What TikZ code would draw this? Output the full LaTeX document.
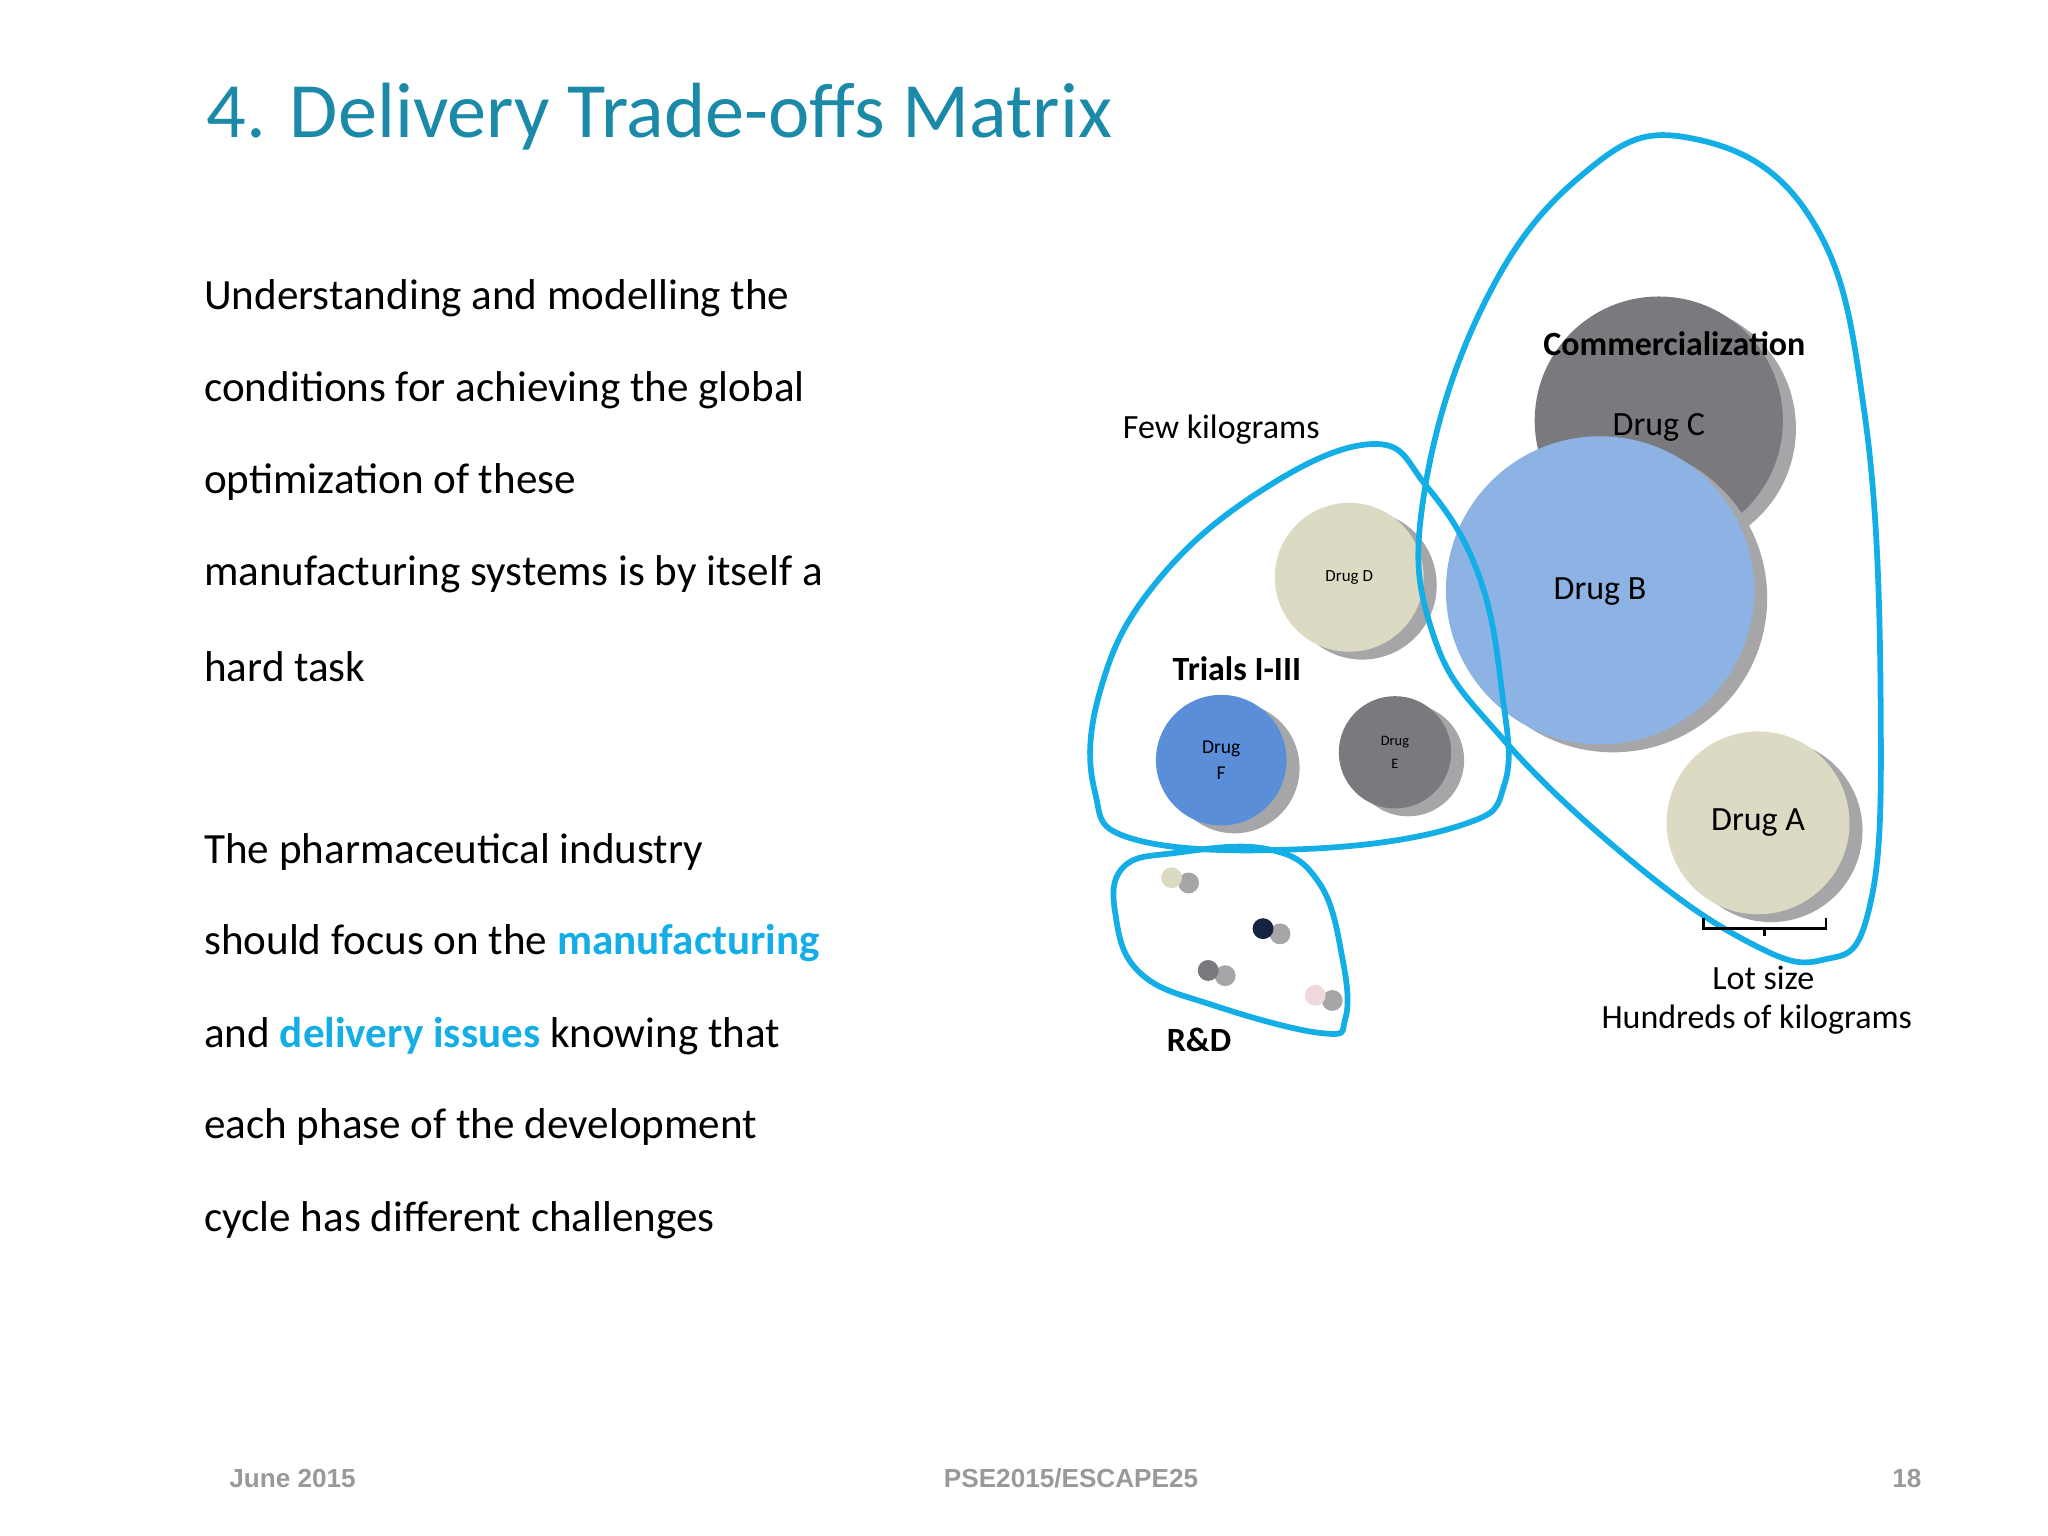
\documentclass[tikz,border=0pt]{standalone}
\usepackage{fontspec}
\setmainfont{Carlito}
\newfontfamily\footfont{Liberation Sans}
\definecolor{teal1}{HTML}{1A8AA8}
\definecolor{cyanl}{HTML}{14AEE6}
\definecolor{shad}{HTML}{A6A6A8}
\definecolor{cream}{HTML}{DDDAC4}
\definecolor{dgray}{HTML}{7A797D}
\definecolor{bblue}{HTML}{8DB3E4}
\definecolor{fblue}{HTML}{5A8ED8}
\definecolor{navy}{HTML}{14233F}
\definecolor{pinkl}{HTML}{F0D8DC}
\begin{document}
\begin{tikzpicture}[x=0.5pt,y=-0.5pt,
  body/.style={anchor=west,font=\fontsize{16.5}{18}\selectfont,inner sep=0},
  blob/.style={draw=cyanl,line width=2.2pt},
  lbl/.style={font=\fontsize{13}{14}\selectfont,inner sep=0},
  blbl/.style={font=\fontsize{13}{14}\selectfont\bfseries,inner sep=0},
  foot/.style={font=\footfont\bfseries\fontsize{10}{11}\selectfont,text=gray!80,inner sep=0}]
\useasboundingbox (0,0) rectangle (1568,1176);
\node[anchor=base west,inner sep=0,text=teal1,font=\fontsize{30}{32}\selectfont] (title) at (158,105) {4. Delivery Trade-offs Matrix};
\foreach \t [count=\i] in {Understanding and modelling the,conditions for achieving the global,optimization of these,manufacturing systems is by itself a,hard task}
  \node[body] (p\i) at (156,{228+70.6*(\i-1)}) {\t};
\node[body] (q1) at (156,652) {The pharmaceutical industry};
\node[body] (q2) at (156,722) {should focus on the \textcolor{cyanl}{\bfseries manufacturing}};
\node[body] (q3) at (156,793) {and \textcolor{cyanl}{\bfseries delivery issues} knowing that};
\node[body] (q4) at (156,863) {each phase of the development};
\node[body] (q5) at (156,934) {cycle has different challenges};
% circles
\newcommand\drug[6]{% x y r color name label
  \fill[shad] (#1+10,#2+6) circle[radius=#3];
  \fill[#4] (#1,#2) circle[radius=#3];
  \node[inner sep=0] (#5) at (#1,#2) {#6};}
\drug{1270}{322}{95}{dgray}{dc}{}
\drug{1225}{452}{118}{bblue}{db}{}
\node[lbl] at (1270,327) {Drug C};
\node[lbl] at (1225,453) {Drug B};
\drug{1346}{630}{70}{cream}{da}{\fontsize{13}{14}\selectfont Drug A}
\drug{1033}{442}{57}{cream}{dd}{\fontsize{6.5}{7}\selectfont Drug D}
\drug{935}{582}{50}{fblue}{df}{\shortstack{\fontsize{7.5}{10}\selectfont Drug\\[1pt]\fontsize{7.5}{8}\selectfont F}}
\drug{1068}{576}{43}{dgray}{de}{\shortstack{\fontsize{5.5}{7}\selectfont Drug\\[1pt]\fontsize{5.5}{6}\selectfont E}}
\foreach \x/\y/\c [count=\i] in {897/672/cream,967/711/navy,925/743/dgray,1007/762/pinkl}{
  \fill[shad] (\x+13,\y+4) circle[radius=8];
  \fill[\c] (\x,\y) circle[radius=8];}
% blobs
\draw[blob] plot[smooth cycle,tension=0.7] coordinates {(1290,105) (1385,165) (1428,320) (1440,560) (1430,700) (1395,735) (1340,722) (1250,660) (1150,565) (1097,485) (1090,380) (1135,235) (1210,135)};
\draw[blob] plot[smooth cycle,tension=0.7] coordinates {(1050,340) (1092,372) (1132,440) (1150,530) (1152,600) (1118,632) (1000,650) (870,643) (838,605) (842,530) (882,450) (962,378)};
\draw[blob] plot[smooth cycle,tension=0.7] coordinates {(900,653) (970,650) (1010,676) (1028,735) (1030,780) (1012,791) (930,770) (873,745) (854,700) (860,664)};
% labels
\node[lbl] (fk) at (935,329) {Few kilograms};
\node[blbl] (com) at (1282,263) {Commercialization};
\node[blbl] (tri) at (947,512) {Trials I-III};
\node[blbl] (rd) at (918,796) {R\&D};
\coordinate (b1) at (1304,703); \coordinate (b2) at (1398,703);
\draw[line width=1pt] (b1) -- ++(0,8) -| (b2);
\draw[line width=1pt] (1351,711) -- (1351,717);
\node[lbl] (ls) at (1350,749) {Lot size};
\node[lbl] (hk) at (1345,781) {Hundreds of kilograms};
\node[foot] (f1) at (224,1132) {June 2015};
\node[foot] (f2) at (820,1132) {PSE2015/ESCAPE25};
\node[foot] (f3) at (1460,1132) {18};
\end{tikzpicture}
\end{document}
